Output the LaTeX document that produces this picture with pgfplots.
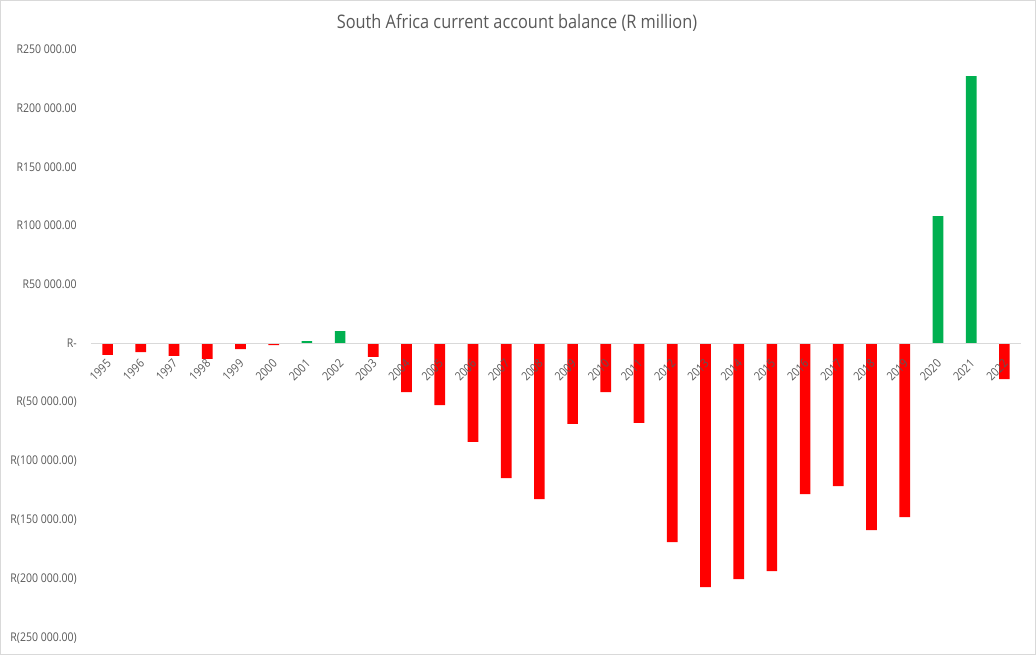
\documentclass[border=0pt]{standalone}
\usepackage{fontspec}
\setmainfont{Open Sans}[FakeStretch=0.875]
\usepackage{pgfplots}
\pgfplotsset{compat=1.18}
\definecolor{txt}{HTML}{595959}
\definecolor{neg}{HTML}{FF0000}
\definecolor{pos}{HTML}{00B050}
\definecolor{zl}{HTML}{D9D9D9}
\definecolor{fr}{HTML}{D9D9D9}
\begin{document}
\begin{tikzpicture}[x=1pt,y=1pt]
\begin{axis}[
  at={(0,0)}, anchor=south west,
  scale only axis, width=697.5pt, height=441.75pt,
  xmin=-0.5, xmax=27.5, ymin=-250000, ymax=250000,
  set layers=axis on top,
  axis x line=middle, axis y line=left,
  x axis line style={draw=zl, line width=0.75pt, -},
  y axis line style={draw=none},
  xtick={0,...,27},
  xticklabels={1995,1996,1997,1998,1999,2000,2001,2002,2003,2004,2005,2006,2007,2008,2009,2010,2011,2012,2013,2014,2015,2016,2017,2018,2019,2020,2021,2022},
  ytick={-250000,-200000,-150000,-100000,-50000,0,50000,100000,150000,200000,250000},
  yticklabels={R(250 000.00),R(200 000.00),R(150 000.00),R(100 000.00),R(50 000.00),R-,R50 000.00,R100 000.00,R150 000.00,R200 000.00,R250 000.00},
  major tick length=0pt,
  tick style={draw=none},
  scaled y ticks=false,
  yticklabel style={font=\fontsize{9}{10}\selectfont, text=txt, inner sep=0pt, xshift=-10.5pt, anchor=east},
  xticklabel style={font=\fontsize{9}{10}\selectfont, text=txt, inner sep=0pt, xshift=1pt, yshift=-13.5pt, rotate=45, anchor=east},
  ybar, bar width=8pt, bar shift=0pt,
  clip=false,
]
\addplot[fill=neg, draw=none] coordinates {
(0,-9700) (1,-7400) (2,-10500) (3,-13100) (4,-4800) (5,-1400)
(8,-11400) (9,-41300) (10,-52400) (11,-83500) (12,-114300) (13,-132200)
(14,-68300) (15,-41300) (16,-67400) (17,-168600) (18,-206900) (19,-200100)
(20,-193300) (21,-127900) (22,-121100) (23,-158500) (24,-147500) (27,-30300)
};
\addplot[fill=pos, draw=none] coordinates {
(6,2000) (7,10400) (25,108100) (26,226900)
};
\end{axis}
\node[font=\fontsize{14}{17}\selectfont, text=txt] at (319.5,461.5) {South Africa current account balance (R million)};
\pgfresetboundingbox
\draw[fr, line width=0.75pt] (-67.875,-12.375) rectangle (708.375,478.125);
\useasboundingbox (-68.25,-12.75) rectangle (708.75,478.5);
\end{tikzpicture}
\end{document}
